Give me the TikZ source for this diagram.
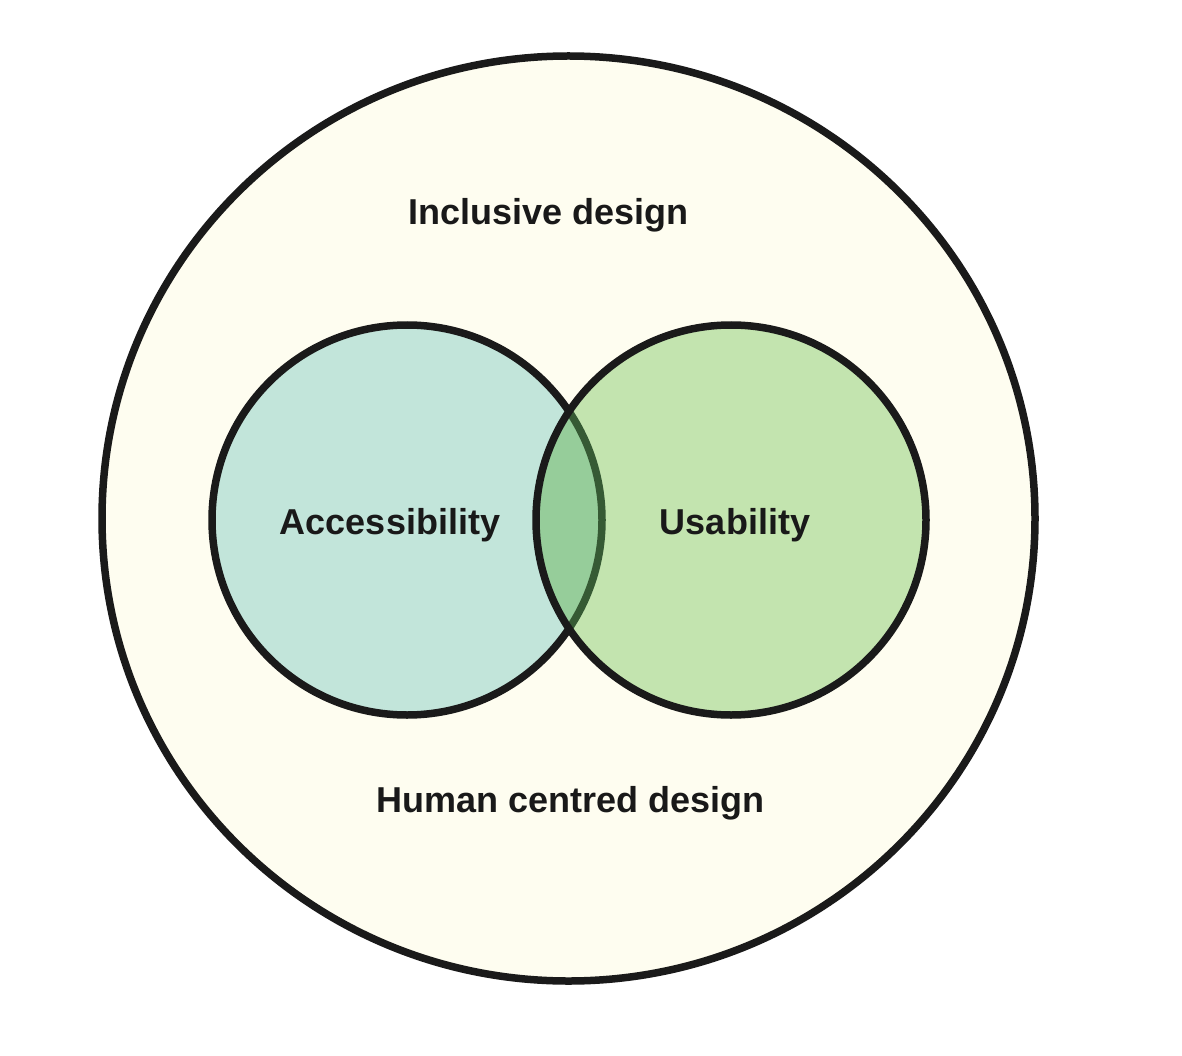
\documentclass[tikz,border=0pt]{standalone}
\usepackage{fontspec}
\setmainfont{Liberation Sans}
\definecolor{outerfill}{HTML}{FEFDF0}
\definecolor{accfill}{HTML}{C2E5DA}
\definecolor{usafill}{HTML}{C3E4AF}
\definecolor{bothfill}{HTML}{96CD9A}
\definecolor{ink}{HTML}{1A1A1A}
\definecolor{inkgreen}{HTML}{365A34}
\tikzset{
  ring/.style={draw=ink, line width=7.5pt},
  label/.style={font=\fontsize{36}{43}\selectfont\bfseries, text=black!90, anchor=base, inner sep=0pt}
}
\begin{document}
\begin{tikzpicture}[x=1pt,y=-1pt]
\useasboundingbox[fill=white] (0,0) rectangle (1182,1056);
% outer circle
\path[ring, fill=outerfill] (568.5,518.5) ellipse [x radius=466.5, y radius=462.5];
% left circle
\path[ring, fill=accfill] (407,520) circle [radius=195];
% right circle fill
\fill[usafill] (731,520) circle [radius=195];
% intersection
\begin{scope}
  \clip (407,520) circle [radius=195];
  \fill[bothfill] (731,520) circle [radius=195];
\end{scope}
% left circle stroke seen through right circle
\begin{scope}
  \clip (731,520) circle [radius=195];
  \draw[inkgreen, line width=7.5pt] (407,520) circle [radius=195];
\end{scope}
% right circle stroke
\draw[ring] (731,520) circle [radius=195];
% labels
\node[label] (incl) at (548.5,225) {Inclusive design};
\node[label] (acc) at (390,534) {Accessibility};
\node[label] (usa) at (735,534) {Usability};
\node[label] (hcd) at (570.5,812) {Human centred design};
\end{tikzpicture}
\end{document}
